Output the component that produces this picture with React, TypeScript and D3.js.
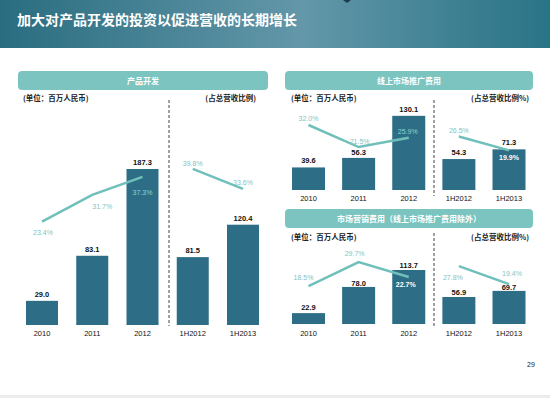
import React from 'react';
import * as d3 from 'd3';

const periods = ['2010', '2011', '2012', '1H2012', '1H2013'];
const devValues = [29.0, 83.1, 187.3, 81.5, 120.4];
const devPct = [23.4, 31.7, 37.3, 39.8, 33.6];
const onlineValues = [39.6, 56.3, 130.1, 54.3, 71.3];
const onlinePct = [32.0, 21.5, 25.9, 26.5, 19.9];
const mktValues = [22.9, 78.0, 113.7, 56.9, 69.7];
const mktPct = [18.5, 29.7, 22.7, 27.8, 19.4];

const pageTitle = '加大对产品开发的投资以促进营收的长期增长';
const panelTitles = ['产品开发', '线上市场推广费用', '市场营销费用（线上市场推广费用除外）'];
const unitLabel = '(单位：百万人民币)';
const ratioLabels = ['(占总营收比例)', '(占总营收比例%)', '(占总营收比例%)'];
const pageNumber = '29';

const BAR = '#2d6e86';
const LINE = '#6fc0bb';
const PCT = '#7fc4c0';
const PCT_IN = '#8fd3cf';
const CJK = '"Noto Sans CJK SC", sans-serif';
const NUM = '"Liberation Sans", Arial, sans-serif';

type LabelStyle = { dx: number; dy: number; kind: 'out' | 'in' | 'white' };

type PanelCfg = {
  values: number[];
  pct: number[];
  title: string;
  ratio: string;
  xRange: [number, number];
  barW: number;
  bar: { x: number; y: number; w: number; h: number };
  unitY: number;
  unitX: number;
  ratioX: number;
  dashX: number;
  dashY: [number, number];
  vDomain: [number, number];
  vRange: [number, number];
  pDomain: [number, number];
  pRange: [number, number];
  xLabelY: number;
  valDy: number[];
  pctLabels: LabelStyle[];
};

const panels: PanelCfg[] = [
  {
    values: devValues,
    pct: devPct,
    title: panelTitles[0],
    ratio: ratioLabels[0],
    xRange: [42, 243],
    barW: 32,
    bar: { x: 18, y: 71, w: 250, h: 19 },
    unitY: 101,
    unitX: 23,
    ratioX: 256,
    dashX: 169,
    dashY: [100, 326],
    vDomain: [0, 200],
    vRange: [325, 158.4],
    pDomain: [0, 40],
    pRange: [297, 168.2],
    xLabelY: 336,
    valDy: [-4, -4, -4, -4, -4],
    pctLabels: [
      { dx: 1, dy: 13, kind: 'out' },
      { dx: 10, dy: 14, kind: 'out' },
      { dx: 0, dy: 18, kind: 'in' },
      { dx: 0, dy: -3, kind: 'out' },
      { dx: 0, dy: -4, kind: 'out' },
    ],
  },
  {
    values: onlineValues,
    pct: onlinePct,
    title: panelTitles[1],
    ratio: ratioLabels[1],
    xRange: [308.5, 509],
    barW: 33,
    bar: { x: 285, y: 71, w: 248, h: 19 },
    unitY: 101,
    unitX: 291,
    ratioX: 529,
    dashX: 434,
    dashY: [100, 196],
    vDomain: [0, 100],
    vRange: [190, 133],
    pDomain: [0, 40],
    pRange: [192.2, 108.2],
    xLabelY: 201,
    valDy: [-4, -3, -4, -4, -4],
    pctLabels: [
      { dx: 0, dy: -4, kind: 'out' },
      { dx: 1, dy: -3, kind: 'out' },
      { dx: -1, dy: -4, kind: 'in' },
      { dx: 0, dy: -4, kind: 'out' },
      { dx: 0, dy: 10, kind: 'white' },
    ],
  },
  {
    values: mktValues,
    pct: mktPct,
    title: panelTitles[2],
    ratio: ratioLabels[2],
    xRange: [308.5, 509],
    barW: 33,
    bar: { x: 285, y: 209, w: 248, h: 19 },
    unitY: 240,
    unitX: 291,
    ratioX: 529,
    dashX: 434,
    dashY: [233, 326],
    vDomain: [0, 100],
    vRange: [324, 276.5],
    pDomain: [0, 40],
    pRange: [325.6, 240],
    xLabelY: 336,
    valDy: [-3, -1, -2, -2, -1],
    pctLabels: [
      { dx: -5, dy: -6, kind: 'out' },
      { dx: -4, dy: -6, kind: 'out' },
      { dx: -3, dy: 10, kind: 'white' },
      { dx: -6, dy: 14, kind: 'out' },
      { dx: 3, dy: -8, kind: 'out' },
    ],
  },
];

function Panel({ cfg }: { cfg: PanelCfg }) {
  const x = d3.scalePoint<string>().domain(periods).range(cfg.xRange);
  const y = d3.scaleLinear().domain(cfg.vDomain).range(cfg.vRange);
  const py = d3.scaleLinear().domain(cfg.pDomain).range(cfg.pRange);
  const base = y(0);
  const line = d3
    .line<number>()
    .x((_, i, arr) => x(arr === seg1 ? periods[i] : periods[i + 3]) as number)
    .y((d) => py(d));
  const seg1 = cfg.pct.slice(0, 3);
  const seg2 = cfg.pct.slice(3);
  const pts1 = seg1.map((p, i) => [x(periods[i]) as number, py(p)] as [number, number]);
  const pts2 = seg2.map((p, i) => [x(periods[i + 3]) as number, py(p)] as [number, number]);
  const lineGen = d3.line();
  void line;
  return (
    <g>
      <rect x={cfg.bar.x} y={cfg.bar.y} width={cfg.bar.w} height={cfg.bar.h} rx={4} fill="#7cc4c0" />
      <text
        x={cfg.bar.x + cfg.bar.w / 2}
        y={cfg.bar.y + cfg.bar.h / 2 + 3}
        textAnchor="middle"
        fontSize={8}
        fontWeight="bold"
        fill="#fff"
        fontFamily={CJK}
      >
        {cfg.title}
      </text>
      <text x={cfg.unitX} y={cfg.unitY} fontSize={7.5} fontWeight="bold" fill="#222" fontFamily={CJK}>
        {unitLabel}
      </text>
      <text
        x={cfg.ratioX}
        y={cfg.unitY}
        textAnchor="end"
        fontSize={7.5}
        fontWeight="bold"
        fill="#222"
        fontFamily={CJK}
      >
        {cfg.ratio}
      </text>
      <line
        x1={cfg.dashX}
        x2={cfg.dashX}
        y1={cfg.dashY[0]}
        y2={cfg.dashY[1]}
        stroke="#444"
        strokeWidth={1}
        strokeDasharray="3,2"
      />
      {cfg.values.map((v, i) => {
        const cx = x(periods[i]) as number;
        return (
          <g key={i}>
            <rect x={cx - cfg.barW / 2} y={y(v)} width={cfg.barW} height={base - y(v)} fill={BAR} />
            <text
              x={cx}
              y={y(v) + cfg.valDy[i]}
              textAnchor="middle"
              fontSize={7.5}
              fontWeight="bold"
              fill="#111"
              fontFamily={NUM}
            >
              {v.toFixed(1)}
            </text>
            <text x={cx} y={cfg.xLabelY} textAnchor="middle" fontSize={7.5} fill="#111" fontFamily={NUM}>
              {periods[i]}
            </text>
          </g>
        );
      })}
      <path d={lineGen(pts1) || ''} fill="none" stroke={LINE} strokeWidth={2.5} />
      <path d={lineGen(pts2) || ''} fill="none" stroke={LINE} strokeWidth={2.5} />
      {cfg.pct.map((p, i) => {
        const s = cfg.pctLabels[i];
        const cx = x(periods[i]) as number;
        const fill = s.kind === 'out' ? PCT : s.kind === 'in' ? PCT_IN : '#fff';
        return (
          <text
            key={i}
            x={cx + s.dx}
            y={py(p) + s.dy}
            textAnchor="middle"
            fontSize={7}
            fontWeight={s.kind === 'white' ? 'bold' : 'normal'}
            fill={fill}
            fontFamily={NUM}
          >
            {p.toFixed(1)}%
          </text>
        );
      })}
    </g>
  );
}

export default function App() {
  return (
    <svg
      width={550}
      height={398}
      style={{ position: 'absolute', left: 0, top: 0 }}
      xmlns="http://www.w3.org/2000/svg"
    >
      <defs>
        <linearGradient id="hdr" x1="0" x2="1" y1="0" y2="0">
          <stop offset="0" stopColor="#2a6d80" />
          <stop offset="0.55" stopColor="#6397a9" />
          <stop offset="0.85" stopColor="#3b7f91" />
          <stop offset="1" stopColor="#2a7487" />
        </linearGradient>
      </defs>
      <rect x={0} y={0} width={550} height={398} fill="#fff" />
      <rect x={0} y={0} width={550} height={48} fill="url(#hdr)" />
      <path d="M343,0 L351,0 L347,3 Z" fill="#1d3c4a" />
      <text x={17} y={25} fontSize={14} fontWeight="bold" fill="#fff" fontFamily={CJK}>
        {pageTitle}
      </text>
      {panels.map((p, i) => (
        <Panel key={i} cfg={p} />
      ))}
      <text x={531} y={367} textAnchor="middle" fontSize={7} fill="#222" fontFamily={NUM}>
        {pageNumber}
      </text>
      <rect x={0} y={395} width={550} height={3} fill="#ececec" />
    </svg>
  );
}
